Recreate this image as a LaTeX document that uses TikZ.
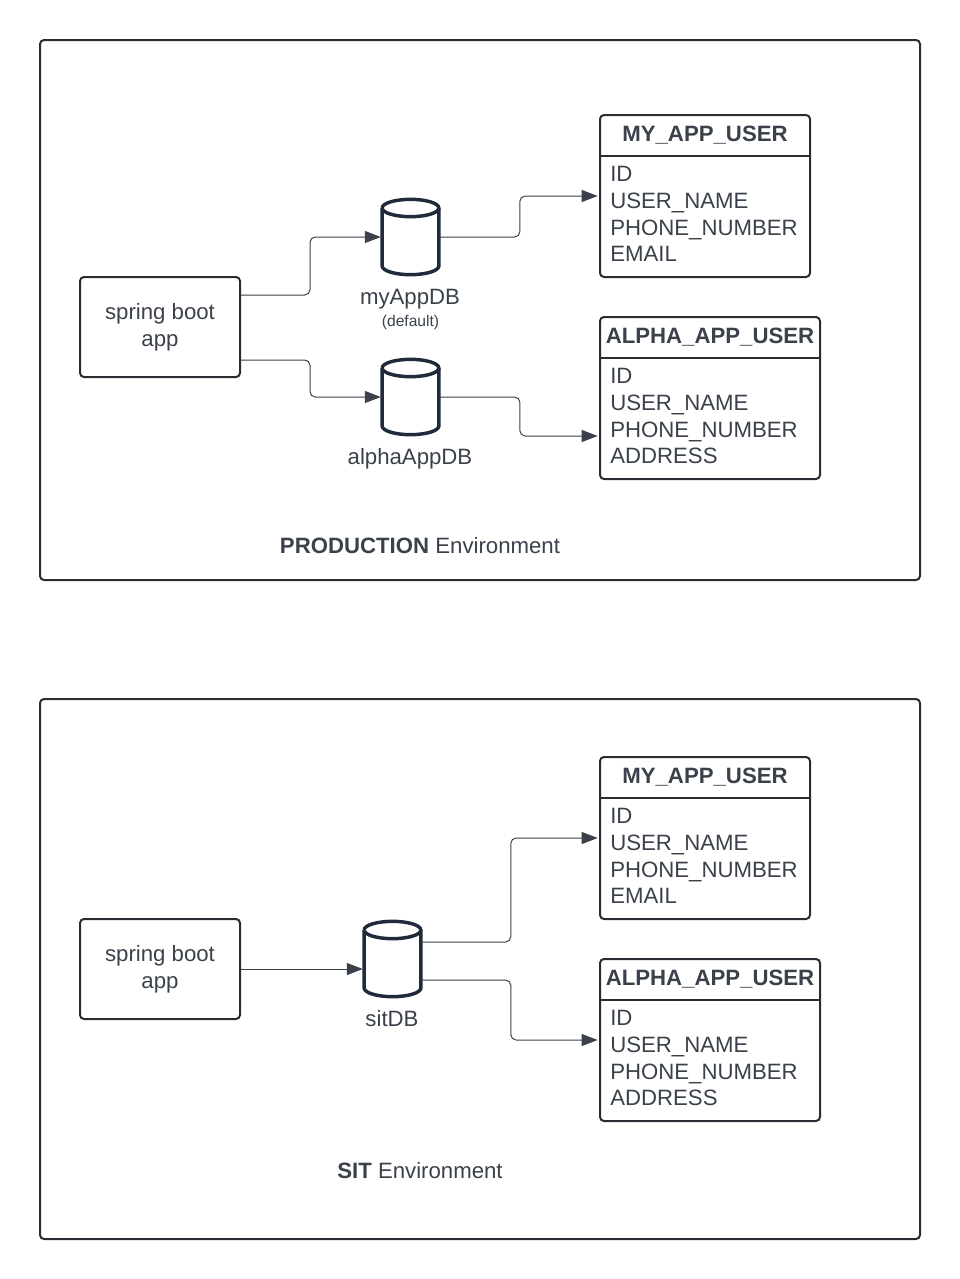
\documentclass[tikz,border=0pt]{standalone}
\usepackage{fontspec}
\setmainfont{Liberation Sans}
\usetikzlibrary{arrows.meta}

\definecolor{inkdark}{HTML}{282C33}
\definecolor{inktext}{HTML}{3A414A}
\definecolor{inkdb}{HTML}{1F2A3A}

\tikzset{
  envbox/.style={draw=inkdark,line width=1.5pt,rounded corners=3pt,minimum width=660pt,minimum height=405pt,inner sep=0pt},
  appbox/.style={draw=inkdark,line width=1.5pt,rounded corners=3pt,minimum width=120pt,minimum height=75pt,inner sep=0pt,align=center,text=inktext,font=\fontsize{16.65pt}{20pt}\selectfont},
  tblbox/.style={draw=inkdark,line width=1.5pt,rounded corners=3pt,minimum height=121.5pt,inner sep=0pt},
  tblhead/.style={text=inktext,inner sep=0pt,font=\fontsize{16.65pt}{20pt}\selectfont\bfseries},
  tblrows/.style={anchor=west,align=left,text=inktext,inner sep=0pt,font=\fontsize{16.65pt}{20pt}\selectfont},
  dbnode/.style={minimum width=42.5pt,minimum height=56.5pt,inner sep=0pt,outer sep=0pt},
  dbline/.style={draw=inkdb,line width=2.6pt},
  lbl/.style={text=inktext,inner sep=0pt,font=\fontsize{16.65pt}{20pt}\selectfont},
  link/.style={draw=inktext,line width=0.75pt,rounded corners=4pt,shorten >=1pt,-{Triangle[length=12pt,width=9pt]}},
  rule/.style={draw=inkdark,line width=1.5pt}
}

% -- cylinder outline round a dbnode
\newcommand{\dbcyl}[1]{
  \draw[dbline] ([yshift=-6.5pt]#1.north west) arc[start angle=180,end angle=-180,x radius=21.25pt,y radius=6.5pt];
  \draw[dbline] ([yshift=-6.5pt]#1.north west) -- ([yshift=6.5pt]#1.south west)
    arc[start angle=180,end angle=360,x radius=21.25pt,y radius=6.5pt] -- ([yshift=-6.5pt]#1.north east);
}

\begin{document}
\begin{tikzpicture}[x=0.75pt,y=-0.75pt]
\useasboundingbox (0,0) rectangle (960,1279);

% -- production environment
\node [envbox] (prodenv) at (480,310) {};
\node [appbox] (prodapp) at (160,327) {spring boot\\app};
\node [dbnode] (myappdb) at (410.5,237) {};
\dbcyl{myappdb}
\node [lbl] (myapplbl) at (410,299) {myAppDB};
\node [lbl,font=\fontsize{11.7pt}{13pt}\selectfont] (mydefault) at (410.5,322) {(default)};
\node [dbnode] (alphadb) at (410.5,397) {};
\dbcyl{alphadb}
\node [lbl] (alphalbl) at (410,458.5) {alphaAppDB};
\node [lbl] (prodlbl) at (420,545.5) {\textbf{PRODUCTION} Environment};

% -- production tables
\node [tblbox,minimum width=157.5pt] (prodmy) at (705,196) {};
\node [tblhead] (prodmyhead) at (705,135) {MY\_APP\_USER};
\node [tblrows] (prodmyrows) at (610,214.2) {ID\\USER\_NAME\\PHONE\_NUMBER\\EMAIL};
\draw[rule] ([yshift=-31.5pt]prodmy.north west) -- ([yshift=-31.5pt]prodmy.north east);

\node [tblbox,minimum width=165pt] (prodalpha) at (710,398) {};
\node [tblhead] (prodalphahead) at (710,337) {ALPHA\_APP\_USER};
\node [tblrows] (prodalpharows) at (610,416.2) {ID\\USER\_NAME\\PHONE\_NUMBER\\ADDRESS};
\draw[rule] ([yshift=-31.5pt]prodalpha.north west) -- ([yshift=-31.5pt]prodalpha.north east);

% -- production arrows
\draw[link] ([yshift=24pt]prodapp.east) -- ++(69,0) |- (myappdb.west);
\draw[link] ([yshift=-24.75pt]prodapp.east) -- ++(69,0) |- (alphadb.west);
\draw[link] (myappdb.east) -- ++(81,0) |- (prodmy.west);
\draw[link] (alphadb.east) -- ++(81,0) |- ([yshift=-28.5pt]prodalpha.west);

% -- sit environment
\node [envbox] (sitenv) at (480,969) {};
\node [appbox] (sitapp) at (160,969) {spring boot\\app};
\node [dbnode] (sitdb) at (392.5,959) {};
\dbcyl{sitdb}
\node [lbl] (sitlbl) at (392,1019) {sitDB};
\node [lbl] (sitenvlbl) at (420,1170.5) {\textbf{SIT} Environment};

% -- sit tables
\node [tblbox,minimum width=157.5pt] (sitmy) at (705,838) {};
\node [tblhead] (sitmyhead) at (705,777) {MY\_APP\_USER};
\node [tblrows] (sitmyrows) at (610,856.2) {ID\\USER\_NAME\\PHONE\_NUMBER\\EMAIL};
\draw[rule] ([yshift=-31.5pt]sitmy.north west) -- ([yshift=-31.5pt]sitmy.north east);

\node [tblbox,minimum width=165pt] (sitalpha) at (710,1040) {};
\node [tblhead] (sitalphahead) at (710,979) {ALPHA\_APP\_USER};
\node [tblrows] (sitalpharows) at (610,1058.2) {ID\\USER\_NAME\\PHONE\_NUMBER\\ADDRESS};
\draw[rule] ([yshift=-31.5pt]sitalpha.north west) -- ([yshift=-31.5pt]sitalpha.north east);

% -- sit arrows
\draw[link] (sitapp.east) -- ([yshift=-7.5pt]sitdb.west);
\draw[link] ([yshift=12.75pt]sitdb.east) -- ++(90,0) |- (sitmy.west);
\draw[link] ([yshift=-15.75pt]sitdb.east) -- ++(90,0) |- (sitalpha.west);
\end{tikzpicture}
\end{document}
